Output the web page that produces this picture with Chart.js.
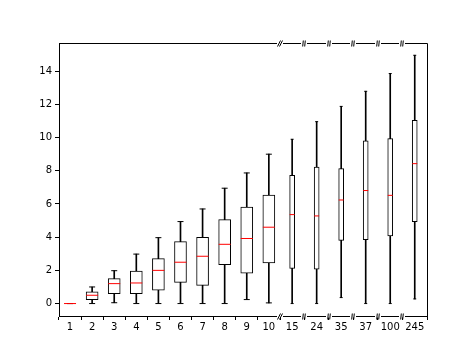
<!DOCTYPE html>
<html>
<head>
<meta charset="utf-8">
<script src="https://cdn.jsdelivr.net/npm/chart.js@4.4.1/dist/chart.umd.min.js"></script>
<style>
  html, body { margin: 0; padding: 0; background: #fff; }
  canvas { display: block; }
</style>
</head>
<body>
<canvas id="box" width="474" height="355"></canvas>
<script>
// categories (the last six sit after the axis breaks)
const labels = ["1", "2", "3", "4", "5", "6", "7", "8", "9", "10", "15", "24", "35", "37", "100", "245"];
const mins    = [0, 0,    0.05, 0,    0,    0,    0,    0,    0.24, 0.04, 0,    0,     0.36,  0,     0,     0.28];
const q1s     = [0, 0.24, 0.6,  0.6,  0.8,  1.28, 1.1,  2.35, 1.83, 2.45, 2.11, 2.07,  3.81,  3.85,  4.07,  4.94];
const medians = [0, 0.5,  1.2,  1.24, 2.0,  2.49, 2.85, 3.57, 3.92, 4.6,  5.36, 5.28,  6.24,  6.81,  6.52,  8.43];
const q3s     = [0, 0.7,  1.5,  1.96, 2.71, 3.73, 3.99, 5.06, 5.82, 6.54, 7.73, 8.23,  8.13,  9.8,   9.94,  11.04];
const maxs    = [0, 1.0,  1.98, 2.98, 3.97, 4.94, 5.7,  6.95, 7.87, 9.0,  9.9,  10.96, 11.88, 12.79, 13.86, 14.96];
const yTicks = [0, 2, 4, 6, 8, 10, 12, 14];

// left part: one unit per category; right part: a bit wider spacing
const nLeft = 10;
const rightStep = 1.11;
const pos = labels.map((l, i) => i < nLeft ? i + 1 : nLeft + 0.5 + rightStep * (i - nLeft + 0.5));
const breaks = labels.slice(nLeft).map((l, k) => nLeft + 0.5 + rightStep * k);
const xMax = nLeft + 0.5 + rightStep * (labels.length - nLeft);

const pick = (arr, from, to) => arr.slice(from, to).map((v, i) => ({ x: pos[from + i], y: v }));
const range = (a, b, from, to) => a.slice(from, to).map((v, i) => ({ x: pos[from + i], y: [v, b[from + i]] }));

const frameAndBreaks = {
    id: "frameAndBreaks",
    afterDraw(chart) {
        const { ctx, chartArea: a, scales } = chart;
        ctx.save();
        ctx.strokeStyle = "#000";
        ctx.lineWidth = 1;
        ctx.beginPath();
        ctx.moveTo(a.left, a.top + 0.5);
        ctx.lineTo(a.right + 0.5, a.top + 0.5);
        ctx.lineTo(a.right + 0.5, a.bottom);
        ctx.stroke();
        breaks.forEach((b, k) => {
            const x = Math.round(scales.x.getPixelForValue(b));
            [a.top + 0.5, a.bottom + 0.5].forEach(y => {
                ctx.fillStyle = "#fff";
                ctx.fillRect(x - 3, y - 1, 6, 2);
                ctx.beginPath();
                const lean = k === 0 ? 1.5 : 0.3;
                [-1, 1].forEach(d => {
                    ctx.moveTo(x + d - lean, y + 3);
                    ctx.lineTo(x + d + lean, y - 3);
                });
                ctx.stroke();
            });
        });
        ctx.restore();
    }
};

const font = { family: "DejaVu Sans", size: 10 };

new Chart(document.getElementById("box"), {
    type: "bar",
    data: {
        datasets: [
            { type: "scatter", order: 0, data: pick(medians, 0, nLeft), pointStyle: "line", radius: 6, borderColor: "#ff0000", borderWidth: 1 },
            { type: "scatter", order: 0, data: pick(medians, nLeft), pointStyle: "line", radius: 2.5, borderColor: "#ff0000", borderWidth: 1 },
            { type: "scatter", order: 1, data: pick(mins, 0, nLeft).concat(pick(maxs, 0, nLeft)), pointStyle: "line", radius: 3, borderColor: "#000", borderWidth: 1 },
            { type: "scatter", order: 1, data: pick(mins, nLeft).concat(pick(maxs, nLeft)), pointStyle: "line", radius: 1.5, borderColor: "#000", borderWidth: 1 },
            { order: 2, data: range(q1s, q3s, 0, nLeft), barThickness: 12, grouped: false, backgroundColor: "#fff", borderColor: "#000", borderWidth: 1, borderSkipped: false },
            { order: 2, data: range(q1s, q3s, nLeft), barThickness: 5, grouped: false, backgroundColor: "#fff", borderColor: "#000", borderWidth: 1, borderSkipped: false },
            { order: 3, data: range(mins, maxs, 0), barThickness: 1, grouped: false, backgroundColor: "#000", borderWidth: 0 }
        ]
    },
    options: {
        responsive: false,
        animation: false,
        layout: { padding: { top: 43, right: 47, left: 0, bottom: 0 } },
        plugins: { legend: { display: false }, tooltip: { enabled: false } },
        scales: {
            x: {
                type: "linear",
                min: 0.5,
                max: xMax,
                offset: false,
                afterFit: s => { s.height = 39; },
                afterBuildTicks: s => { s.ticks = pos.map(v => ({ value: v })); },
                ticks: {
                    autoSkip: false, maxRotation: 0, padding: 1, color: "#000", font,
                    callback: (v, i) => labels[i]
                },
                grid: { drawOnChartArea: false, drawTicks: true, tickLength: 4, color: "#000" },
                border: { display: true, color: "#000", width: 1 }
            },
            y: {
                min: -0.75,
                max: 15.7,
                afterFit: s => { s.width = 59; },
                afterBuildTicks: s => { s.ticks = yTicks.map(v => ({ value: v })); },
                ticks: { padding: 3, color: "#000", font },
                grid: { drawOnChartArea: false, drawTicks: true, tickLength: 4, color: "#000" },
                border: { display: true, color: "#000", width: 1 }
            }
        }
    },
    plugins: [frameAndBreaks]
});
</script>
</body>
</html>
